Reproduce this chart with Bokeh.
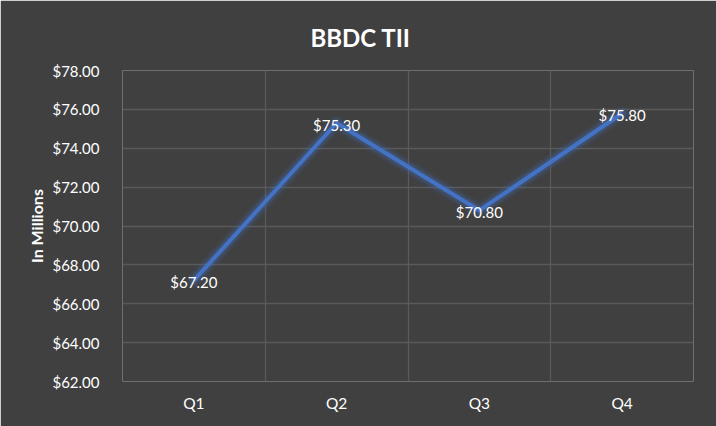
from bokeh.plotting import figure
from bokeh.models import (ColumnDataSource, FixedTicker, NumeralTickFormatter,
                          LabelSet, Range1d)
from bokeh.core.properties import value
from bokeh.embed import file_html
from bokeh.resources import INLINE

# ---- data ----
categories = ["Q1", "Q2", "Q3", "Q4"]
values = [67.20, 75.30, 70.80, 75.80]
value_labels = ["$67.20", "$75.30", "$70.80", "$75.80"]
y_ticks = [62, 64, 66, 68, 70, 72, 74, 76, 78]
title_text = "BBDC TII"
y_title = "In Millions"

BG = "#404040"
GRID = "#5a5a5a"
LINE = "#4472C4"
FONT = "Lato"

n = len(categories)
xs = [i + 0.5 for i in range(n)]
src = ColumnDataSource(dict(x=xs, y=values, lab=value_labels))

p = figure(width=716, height=426, output_backend="svg", toolbar_location=None,
           x_range=Range1d(0, n), y_range=Range1d(y_ticks[0], y_ticks[-1]),
           min_border_left=122, min_border_right=23, min_border_top=70,
           min_border_bottom=45)
p.background_fill_color = BG
p.border_fill_color = BG
p.outline_line_color = None

# title
p.title.text = title_text
p.title.align = "left"
p.title.offset = 188
p.title.standoff = 38
p.title.text_color = "white"
p.title.text_font = FONT
p.title.text_font_style = "bold"
p.title.text_font_size = "24px"

# grid
p.xgrid.ticker = FixedTicker(ticks=list(range(n + 1)))
p.ygrid.ticker = FixedTicker(ticks=y_ticks[1:])
for g in (p.xgrid, p.ygrid):
    g.grid_line_color = GRID
    g.grid_line_width = 1.3

# axes
p.xaxis.ticker = FixedTicker(ticks=xs)
p.xaxis.major_label_overrides = {x: c for x, c in zip(xs, categories)}
p.yaxis.ticker = FixedTicker(ticks=y_ticks)
p.yaxis.formatter = NumeralTickFormatter(format="$0.00")
for ax in (p.xaxis, p.yaxis):
    ax.axis_line_color = None
    ax.major_tick_line_color = None
    ax.minor_tick_line_color = None
    ax.major_label_text_color = "white"
    ax.major_label_text_font = FONT
    ax.major_label_text_font_size = "15px"
p.xaxis.major_label_text_font_size = "15.5px"
p.xaxis.major_label_standoff = 6
p.yaxis.major_label_standoff = 17
p.yaxis.axis_label = y_title
p.yaxis.axis_label_text_color = "white"
p.yaxis.axis_label_text_font = FONT
p.yaxis.axis_label_text_font_style = "bold"
p.yaxis.axis_label_text_font_size = "16px"
p.yaxis.axis_label_standoff = 3

# glow + line
for w, a in [(15, 0.08), (11, 0.12), (8, 0.18)]:
    p.line("x", "y", source=src, line_color=LINE, line_width=w, line_alpha=a,
           line_join="round", line_cap="round")
p.line("x", "y", source=src, line_color=LINE, line_width=4, line_join="round")

# data labels
p.add_layout(LabelSet(x="x", y="y", text="lab", source=src, text_color="white",
                      text_font=value(FONT), text_font_size="15px",
                      text_align="center", text_baseline="middle", y_offset=-2))

open("out.html", "w").write(file_html(p, INLINE))
